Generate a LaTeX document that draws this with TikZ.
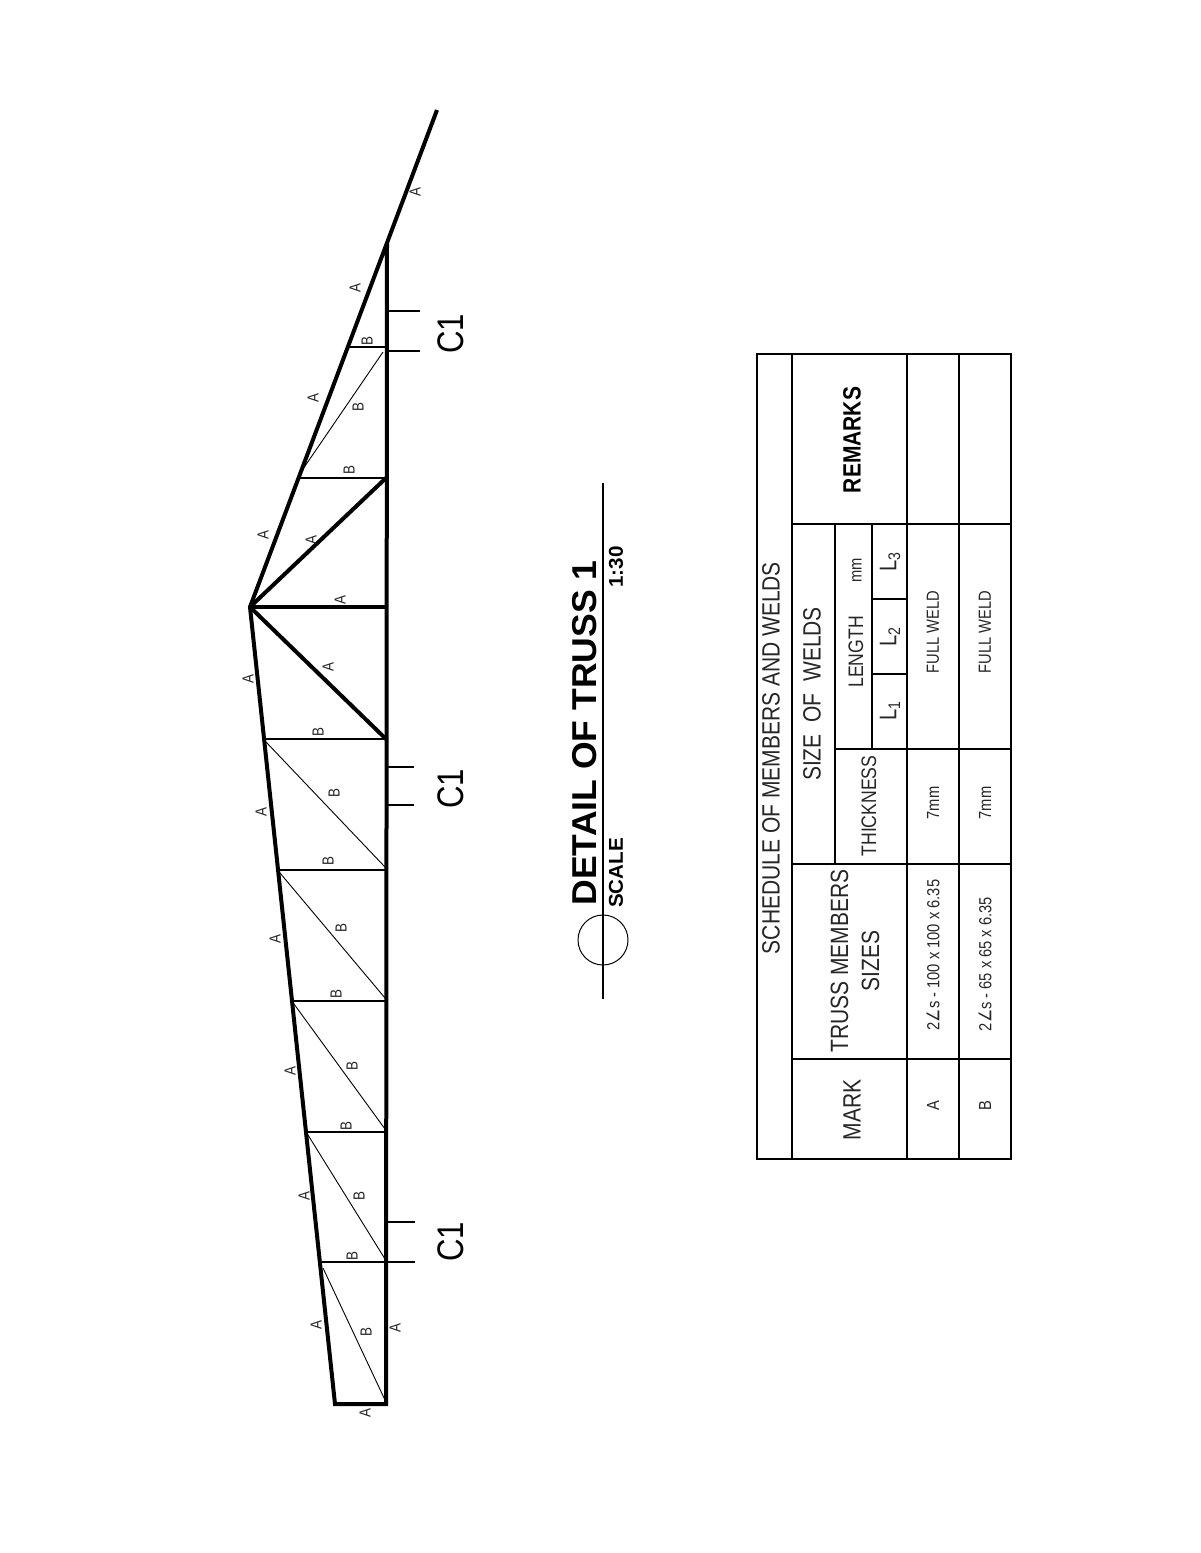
\documentclass[tikz,border=0pt]{standalone}
\usepackage{fontspec}
\setmainfont[FakeStretch=0.84]{Liberation Sans}
\newfontfamily\titlefont[FakeStretch=1.03]{Liberation Sans}
\newfontfamily\anglefont[FakeStretch=0.84]{DejaVu Sans}
\usetikzlibrary{positioning,calc}
\tikzset{
    chord/.style={line width=4pt},
    web/.style={line width=1.1pt},
    brace/.style={line width=0.9pt},
    tick/.style={line width=1.2pt},
    rule/.style={line width=1.2pt},
    txt/.style={rotate=90,inner sep=0pt,text=black!85}
}
\tikzset{
    lbl/.style={txt,font=\fontsize{16}{16}\selectfont},
    cell/.style={txt,font=\fontsize{17.5}{20}\selectfont},
    head/.style={txt,font=\fontsize{25}{31}\selectfont},
    sub/.style={txt,font=\fontsize{21}{24}\selectfont},
    col/.style={txt,text=black,font=\fontsize{37}{37}\selectfont}
}
\begin{document}
\begin{tikzpicture}[x=1pt,y=-1pt]
    \useasboundingbox (0,0) rectangle (1200,1553);

    % Joints
    \coordinate (apex) at (250,607);
    \coordinate (eave) at (387,243);
    \coordinate (tip) at (437,110);
    \coordinate (heel) at (335,1404);
    \coordinate (foot) at (386,1404);
    \coordinate (b0) at (386,347);
    \coordinate (b1) at (386,478);
    \coordinate (b2) at (386,607);
    \coordinate (b3) at (386,739);
    \coordinate (b4) at (386,870);
    \coordinate (b5) at (386,1001);
    \coordinate (b6) at (386,1132);
    \coordinate (b7) at (386,1262);
    \coordinate (t0) at (348,347);
    \coordinate (t1) at (298,478);
    \coordinate (t3) at (264,739);
    \coordinate (t4) at (278,870);
    \coordinate (t5) at (292,1001);
    \coordinate (t6) at (306,1132);
    \coordinate (t7) at (320,1262);

    % Web members
    \draw [web] (t0) -- (b0);
    \draw [web] (t1) -- (b1);
    \draw [web] (t3) -- (b3);
    \draw [web] (t4) -- (b4);
    \draw [web] (t5) -- (b5);
    \draw [web] (t6) -- (b6);
    \draw [web] (t7) -- (b7);
    \draw [brace] (383,352) -- (303,469);
    \draw [brace] (266,742) -- (385,867);
    \draw [brace] (280,873) -- (385,998);
    \draw [brace] (294,1004) -- (385,1129);
    \draw [brace] (308,1135) -- (385,1259);
    \draw [brace] (323,1268) -- (385,1400);

    % Chords
    \draw [chord,line join=miter] (tip) -- (apex) -- (heel) -- (foot) -- (eave);
    \draw [chord] (apex) -- (b1);
    \draw [chord] (apex) -- (b2);
    \draw [chord] (apex) -- (b3);

    % Column lines
    \coordinate (c1a) at (386,311); \coordinate (c1b) at (420,311);
    \coordinate (c1c) at (386,351); \coordinate (c1d) at (420,351);
    \coordinate (c2a) at (386,767); \coordinate (c2b) at (414,767);
    \coordinate (c2c) at (386,805); \coordinate (c2d) at (414,805);
    \coordinate (c3a) at (386,1222); \coordinate (c3b) at (415,1222);
    \coordinate (c3c) at (386,1262); \coordinate (c3d) at (415,1262);
    \draw [tick] (c1a) -- (c1b);
    \draw [tick] (c1c) -- (c1d);
    \draw [tick] (c2a) -- (c2b);
    \draw [tick] (c2c) -- (c2d);
    \draw [tick] (c3a) -- (c3b);
    \draw [tick] (c3c) -- (c3d);
    \node [col] (colA) at (451,334) {C1};
    \node [col] (colB) at (451,789) {C1};
    \node [col] (colC) at (451,1242) {C1};

    % Member marks A
    \node [lbl] (a1) at (415,192) {A};
    \node [lbl] (a2) at (355,288) {A};
    \node [lbl] (a3) at (313,398) {A};
    \node [lbl] (a4) at (263,535) {A};
    \node [lbl] (a5) at (311,540) {A};
    \node [lbl] (a6) at (340,600) {A};
    \node [lbl] (a7) at (328,667) {A};
    \node [lbl] (a8) at (248,679) {A};
    \node [lbl] (a9) at (261,812) {A};
    \node [lbl] (a10) at (275,939) {A};
    \node [lbl] (a11) at (290,1071) {A};
    \node [lbl] (a12) at (304,1196) {A};
    \node [lbl] (a13) at (316,1325) {A};
    \node [lbl] (a14) at (395,1328) {A};
    \node [lbl] (a15) at (365,1413) {A};

    % Member marks B
    \node [lbl] (m1) at (367,341) {B};
    \node [lbl] (m2) at (358,407) {B};
    \node [lbl] (m3) at (349,470) {B};
    \node [lbl] (m4) at (318,732) {B};
    \node [lbl] (m5) at (334,793) {B};
    \node [lbl] (m6) at (328,861) {B};
    \node [lbl] (m7) at (341,928) {B};
    \node [lbl] (m8) at (336,994) {B};
    \node [lbl] (m9) at (352,1066) {B};
    \node [lbl] (m10) at (346,1126) {B};
    \node [lbl] (m11) at (359,1196) {B};
    \node [lbl] (m12) at (352,1256) {B};
    \node [lbl] (m13) at (366,1332) {B};

    % Title
    \coordinate (lineA) at (603,483);
    \coordinate (lineB) at (603,999);
    \draw [rule] (lineA) -- (lineB);
    \node [draw,circle,line width=1pt,minimum size=50pt,inner sep=0pt] (bubble) at (603,940) {};
    \node [txt,text=black,font=\titlefont\bfseries\fontsize{34.5}{35}\selectfont] (title) at (585,733) {DETAIL OF TRUSS 1};
    \node [txt,text=black,font=\titlefont\bfseries\fontsize{20}{20}\selectfont] (scale) at (616,873) {SCALE};
    \node [txt,text=black,font=\titlefont\bfseries\fontsize{20}{20}\selectfont] (ratio) at (616,567) {1:30};

    % Schedule grid
    \draw [rule] (757,354) rectangle (1011,1159);
    \draw [rule] (792,354) -- (792,1159);
    \draw [rule] (907,354) -- (907,1159);
    \draw [rule] (959,354) -- (959,1159);
    \draw [rule] (792,524) -- (1011,524);
    \draw [rule] (792,864) -- (1011,864);
    \draw [rule] (792,1059) -- (1011,1059);
    \draw [rule] (835,749) -- (1011,749);
    \draw [rule] (835,524) -- (835,864);
    \draw [rule] (872,524) -- (872,749);
    \draw [rule] (872,599) -- (907,599);
    \draw [rule] (872,674) -- (907,674);

    % Schedule text
    \node [head] (schedule) at (771,758) {SCHEDULE OF MEMBERS AND WELDS};
    \node [head] (sizewelds) at (812,694) {SIZE\ \ OF\ \ WELDS};
    \node [head,text=black,font=\bfseries\fontsize{25}{25}\selectfont] (remarks) at (852,440) {REMARKS};
    \node [head,align=center] (members) at (855,961) {TRUSS MEMBERS\\SIZES};
    \node [head] (mark) at (852,1110) {MARK};
    \node [sub] (length) at (856,652) {LENGTH};
    \node [cell] (mm) at (857,570) {mm};
    \node [sub] (thick) at (869,806) {THICKNESS};
    \node [sub,font=\fontsize{24}{24}\selectfont] (lone) at (890,711) {L\textsubscript{1}};
    \node [sub,font=\fontsize{24}{24}\selectfont] (ltwo) at (890,637) {L\textsubscript{2}};
    \node [sub,font=\fontsize{24}{24}\selectfont] (lthree) at (890,562) {L\textsubscript{3}};
    \node [cell] (markA) at (933,1106) {A};
    \node [cell] (markB) at (985,1106) {B};
    \node [cell] (sizeA) at (933,955) {2{\anglefont∠}s - 100 x 100 x 6.35};
    \node [cell] (sizeB) at (985,964) {2{\anglefont∠}s - 65 x 65 x 6.35};
    \node [cell] (tA) at (933,803) {7mm};
    \node [cell] (tB) at (985,803) {7mm};
    \node [cell] (weldA) at (933,632) {FULL WELD};
    \node [cell] (weldB) at (985,632) {FULL WELD};
\end{tikzpicture}
\end{document}
